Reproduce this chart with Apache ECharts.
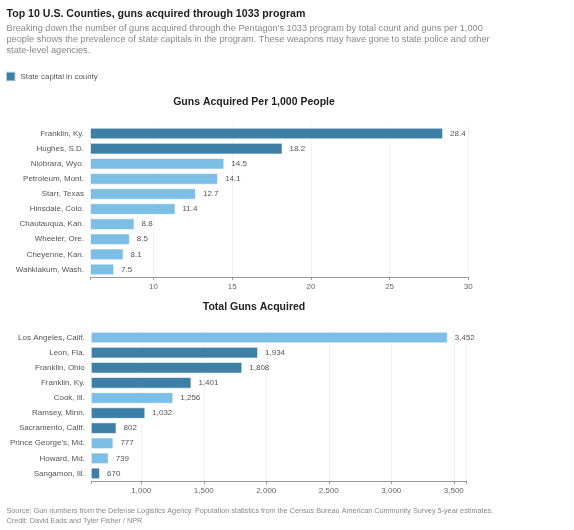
<!DOCTYPE html>
<html>
<head>
<meta charset="utf-8">
<script src="https://cdn.jsdelivr.net/npm/echarts@6/dist/echarts.min.js"></script>
<style>
html,body{margin:0;padding:0;background:#fff;}
#chart{width:574px;height:530px;}
</style>
</head>
<body>
<div id="chart"></div>
<script>
// Guns per 1,000 people
const perCapitaCounties = ["Franklin, Ky.","Hughes, S.D.","Niobrara, Wyo.","Petroleum, Mont.","Starr, Texas","Hinsdale, Colo.","Chautauqua, Kan.","Wheeler, Ore.","Cheyenne, Kan.","Wahkiakum, Wash."];
const perCapitaValues = [28.4,18.2,14.5,14.1,12.7,11.4,8.8,8.5,8.1,7.5];
const perCapitaIsCapital = [true,true,false,false,false,false,false,false,false,false];
const perCapitaTicks = [10,15,20,25,30];
const perCapitaMin = 6, perCapitaMax = 30;

// Total guns acquired
const totalCounties = ["Los Angeles, Calif.","Leon, Fla.","Franklin, Ohio","Franklin, Ky.","Cook, Ill.","Ramsey, Minn.","Sacramento, Calif.","Prince George's, Md.","Howard, Md.","Sangamon, Ill."];
const totalValues = [3452,1934,1808,1401,1256,1032,802,777,739,670];
const totalIsCapital = [false,true,true,true,false,true,true,false,false,true];
const totalTicks = [1000,1500,2000,2500,3000,3500];
const totalMin = 600, totalMax = 3600;

const DARK = '#3e7fa6';
const LIGHT = '#7dbee6';
const FONT = 'Liberation Sans, Arial, sans-serif';

function toData(vals, caps){
  return vals.map((v,i)=>({value:v, itemStyle:{color: caps[i]?DARK:LIGHT}}));
}
function fmt(v){ return Number(v).toLocaleString('en-US'); }

function xAxis(gridIndex, min, max, ticks, formatter){
  return {
    type:'value', gridIndex:gridIndex, min:min, max:max,
    axisLine:{show:true,lineStyle:{color:'#999',width:1}},
    axisTick:{show:true,length:3,lineStyle:{color:'#999'},customValues:[min].concat(ticks, ticks[ticks.length-1]===max?[]:[max])},
    splitLine:{show:true,lineStyle:{color:'#e6e6e6',type:'dotted'}},
    axisLabel:{color:'#666',fontSize:8,fontFamily:FONT,margin:6,customValues:ticks,formatter:formatter}
  };
}
function yAxis(gridIndex, data){
  return {
    type:'category', inverse:true, gridIndex:gridIndex, data:data,
    axisLine:{show:false}, axisTick:{show:false},
    axisLabel:{color:'#555',fontSize:8,fontFamily:FONT,margin:6.5}
  };
}
const labelStyle = {show:true, position:'right', distance:7, color:'#555', fontSize:8, fontFamily:FONT};

const chart = echarts.init(document.getElementById('chart'));
chart.setOption({
  animation:false,
  title:[
    {text:'Top 10 U.S. Counties, guns acquired through 1033 program', left:6.5, top:9, padding:0,
      textStyle:{fontSize:10.6,fontWeight:'bold',color:'#222',fontFamily:FONT}},
    {text:"Breaking down the number of guns acquired through the Pentagon's 1033 program by total count and guns per 1,000\npeople shows the prevalence of state capitals in the program. These weapons may have gone to state police and other\nstate-level agencies.", left:6.5, top:23, padding:0,
      textStyle:{fontSize:9.2,fontWeight:'normal',color:'#888',fontFamily:FONT,lineHeight:11}},
    {text:'Guns Acquired Per 1,000 People', left:254, textAlign:'center', top:96.5, padding:0,
      textStyle:{fontSize:10.5,fontWeight:'bold',color:'#222',fontFamily:FONT}},
    {text:'Total Guns Acquired', left:254, textAlign:'center', top:301.5, padding:0,
      textStyle:{fontSize:10.5,fontWeight:'bold',color:'#222',fontFamily:FONT}},
    {text:'Source: Gun numbers from the Defense Logistics Agency. Population statistics from the Census Bureau American Community Survey 5-year estimates.\nCredit: David Eads and Tyler Fisher / NPR', left:6.5, top:505.5, padding:0,
      textStyle:{fontSize:7.25,fontWeight:'normal',color:'#888',fontFamily:FONT,lineHeight:10.2}}
  ],
  legend:{
    left:5, top:70.7, padding:0, itemWidth:9.5, itemHeight:9.5, itemGap:4,
    icon:'rect',
    data:['State capital in county'],
    textStyle:{fontSize:7.9,color:'#555',fontFamily:FONT,padding:[0,0,0,0]}
  },
  grid:[
    {left:90.5, right:105.7, top:126, height:151},
    {left:91.3, right:107.7, top:330, height:151}
  ],
  xAxis:[
    xAxis(0, perCapitaMin, perCapitaMax, perCapitaTicks, null),
    xAxis(1, totalMin, totalMax, totalTicks, fmt)
  ],
  yAxis:[
    yAxis(0, perCapitaCounties),
    yAxis(1, totalCounties)
  ],
  series:[
    {name:'State capital in county', type:'bar', xAxisIndex:0, yAxisIndex:0,
      data:toData(perCapitaValues, perCapitaIsCapital), barCategoryGap:'23%',
      itemStyle:{color:DARK, borderColor:'rgba(255,255,255,0.6)', borderWidth:1},
      label:labelStyle},
    {name:'State capital in county', type:'bar', xAxisIndex:1, yAxisIndex:1,
      data:toData(totalValues, totalIsCapital), barCategoryGap:'23%',
      itemStyle:{color:DARK, borderColor:'rgba(255,255,255,0.6)', borderWidth:1},
      label:Object.assign({}, labelStyle, {formatter:p=>fmt(p.value)})}
  ]
});
</script>
</body>
</html>
